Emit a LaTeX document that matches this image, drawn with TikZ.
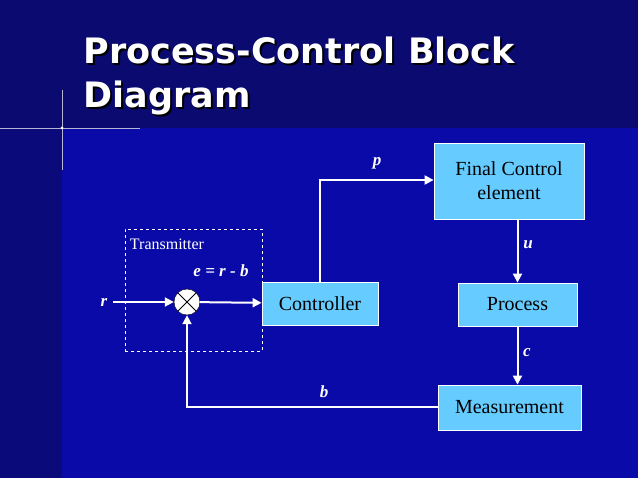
\documentclass[tikz,border=0pt]{standalone}
\usepackage{fontspec}
\setmainfont{Liberation Serif}
\newfontfamily\ttl{DejaVu Sans}
\usetikzlibrary{arrows.meta,shapes.misc}
\definecolor{navy}{HTML}{0A0A70}
\definecolor{bgblue}{HTML}{0A0AA8}
\definecolor{boxblue}{HTML}{66CCFF}
\begin{document}
\begin{tikzpicture}[x=1pt,y=-1pt,
  blk/.style={draw=white,fill=boxblue,line width=0.8pt,font=\fontsize{20}{24}\selectfont,text=black,align=center,inner sep=0pt},
  lbl/.style={text=white,font=\bfseries\itshape\fontsize{17}{18}\selectfont},
  arr/.style={draw=white,line width=2pt,-{Triangle[length=9pt,width=9pt]}},
  ttlf/.style={anchor=west,font=\ttl\bfseries\fontsize{35}{38}\selectfont}]
\useasboundingbox (0,0) rectangle (638,478);
\fill[bgblue] (0,0) rectangle (638,478);
\fill[navy!80!bgblue] (0,128) rectangle (62,478);
\fill[navy] (0,0) rectangle (638,128);
% flare
\draw[white!70!navy,line width=0.6pt] (0,128) -- (140,128);
\draw[white!70!navy,line width=0.6pt] (62,90) -- (62,170);
\fill[white] (62,128) circle (1.5);
% title
\node[ttlf,text=black] (t1s) at (82,52) {Process-Control Block};
\node[ttlf,text=black] (t2s) at (82,100) {Diagram};
\node[ttlf,text=white] (t1) at (80,50) {Process-Control Block};
\node[ttlf,text=white] (t2) at (80,98) {Diagram};
% blocks
\node[blk,minimum width=150,minimum height=76] (fce) at (509,181) {Final Control\\element};
\node[blk,minimum width=119,minimum height=43] (proc) at (517.5,304.5) {Process};
\node[blk,minimum width=116,minimum height=43] (ctrl) at (320,303.5) {Controller};
\node[blk,minimum width=143,minimum height=45] (meas) at (509.5,407.5) {Measurement};
\node[draw=white,dashed,line width=0.5pt,minimum width=137,minimum height=122,inner sep=0] (tx) at (193.5,290) {};
\node[text=white,font=\fontsize{16}{17}\selectfont] (txl) at (167,244) {Transmitter};
\node[draw=black,fill=white,circle,minimum size=26,inner sep=0] (sum) at (187,302) {};
\draw[black,line width=0.8pt] (sum.north west) -- (sum.south east) (sum.north east) -- (sum.south west);
\coordinate (rin) at (113,302);
\node[lbl] (r) at (104,302) {r};
\node[lbl] (e) at (221,271) {e = r - b};
\node[lbl] (p) at (377,163) {p};
\node[lbl] (u) at (528,245) {u};
\node[lbl] (c) at (527,353) {c};
\node[lbl] (b) at (324,392) {b};
% connectors
\draw[arr] (rin) -- (sum);
\draw[arr] (sum) -- (ctrl);
\draw[arr] (ctrl.north) |- (fce.west |- 0,180);
\draw[arr] (fce.south -| proc.north) -- (proc.north);
\draw[arr] (proc.south) -- (proc.south |- meas.north);
\draw[arr] (meas.west) -| (sum.south);
\end{tikzpicture}
\end{document}
